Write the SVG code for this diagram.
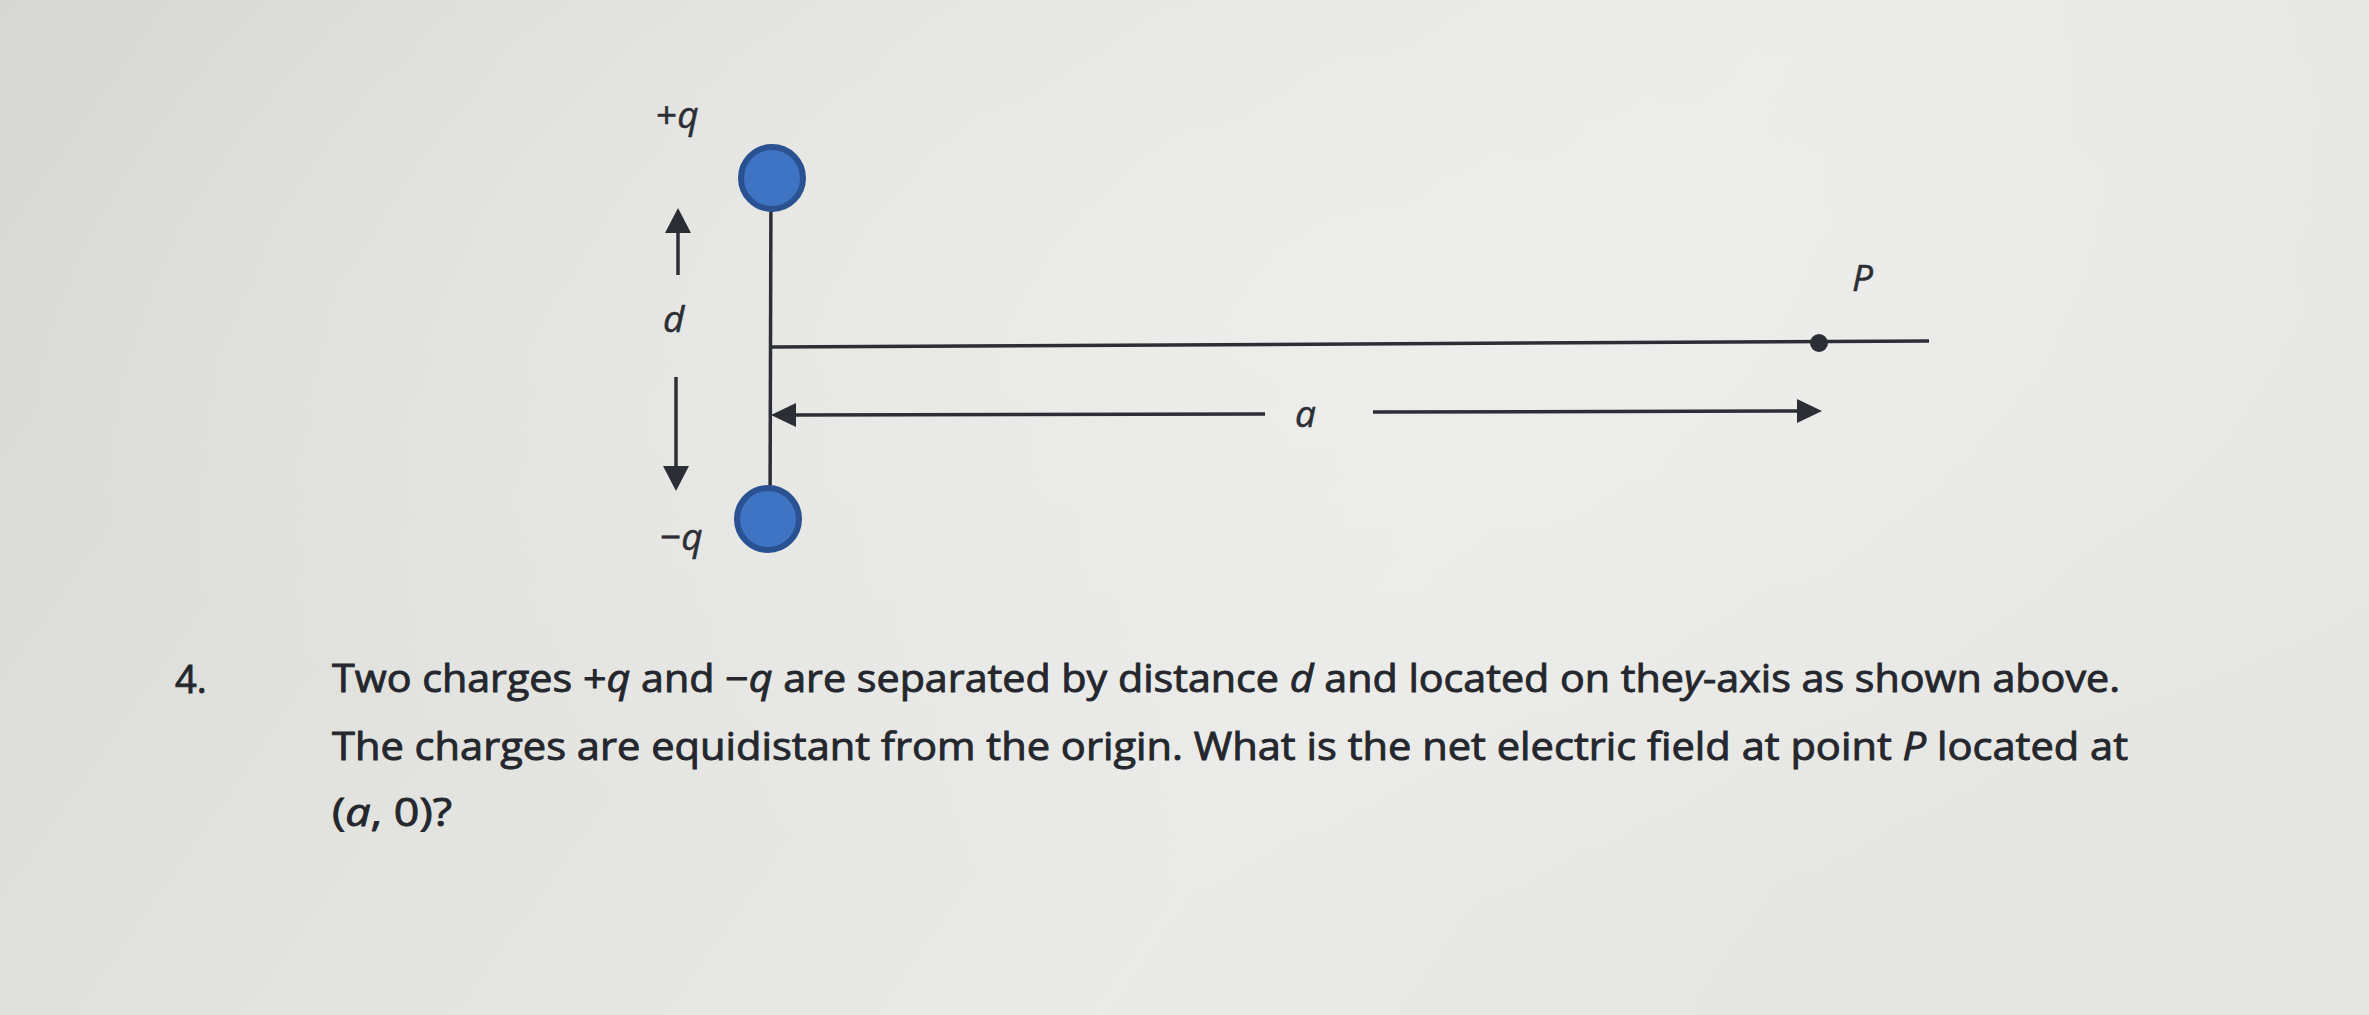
<svg xmlns="http://www.w3.org/2000/svg" width="2369" height="1015" viewBox="0 0 2369 1015">
<defs>
<linearGradient id="bg" x1="0" y1="0" x2="1" y2="0.3">
<stop offset="0" stop-color="#d7d8d4"/>
<stop offset="0.35" stop-color="#e2e2df"/>
<stop offset="0.7" stop-color="#eaeae8"/>
<stop offset="1" stop-color="#e5e5e2"/>
</linearGradient>
<radialGradient id="glow" cx="0.6" cy="0.3" r="0.6">
<stop offset="0" stop-color="#efefed" stop-opacity="0.7"/>
<stop offset="1" stop-color="#efefed" stop-opacity="0"/>
</radialGradient>
<style>
.ln{stroke:#2b2e35;stroke-width:3.5;fill:none}
.hd{fill:#2b2e35}
.chg{fill:#3e74c3;stroke:#2a5292;stroke-width:6}
.lbl{font-family:"Open Sans","DejaVu Sans",sans-serif;font-size:37px;fill:#2b2e35;stroke:#2b2e35;stroke-width:0.5}
.body{font-family:"Open Sans","DejaVu Sans",sans-serif;font-size:38px;fill:#24272d;stroke:#24272d;stroke-width:0.9}
.it{font-style:italic}
</style>
</defs>
<rect width="2369" height="1015" fill="url(#bg)"/>
<rect width="2369" height="1015" fill="url(#glow)"/>

<g id="connectors">
<line class="ln" x1="771" y1="178" x2="770" y2="519"/>
<line class="ln" x1="771" y1="347" x2="1929" y2="341"/>
<line class="ln" x1="792" y1="415" x2="1265" y2="414"/>
<polygon class="hd" points="771,415 796,403 796,427"/>
<line class="ln" x1="1373" y1="412" x2="1800" y2="411"/>
<polygon class="hd" points="1822,411 1797,399 1797,423"/>
<line class="ln" x1="678" y1="275" x2="678" y2="230"/>
<polygon class="hd" points="678,208 665,233 691,233"/>
<line class="ln" x1="676" y1="377" x2="676" y2="468"/>
<polygon class="hd" points="676,491 663,466 689,466"/>
</g>

<g id="charge-plus">
<circle class="chg" cx="772" cy="178" r="31"/>
<text class="lbl" x="656" y="128"><tspan>+</tspan><tspan class="it">q</tspan></text>
</g>
<g id="charge-minus">
<circle class="chg" cx="768" cy="519" r="31"/>
<text class="lbl" x="660" y="550"><tspan>−</tspan><tspan class="it">q</tspan></text>
</g>
<g id="point-P">
<circle cx="1819" cy="343" r="9" fill="#2b2e35"/>
<text class="lbl it" x="1852" y="291">P</text>
</g>
<g id="label-d">
<text class="lbl it" x="663" y="332">d</text>
</g>
<g id="label-a">
<text class="lbl it" x="1295" y="427">a</text>
</g>

<g id="question">
<text class="body" x="175" y="693">4.</text>
<text class="body" x="332" y="692" textLength="1788" lengthAdjust="spacingAndGlyphs">Two charges +<tspan class="it">q</tspan> and −<tspan class="it">q</tspan> are separated by distance <tspan class="it">d</tspan> and located on the<tspan class="it">y</tspan>-axis as shown above.</text>
<text class="body" x="332" y="760" textLength="1796" lengthAdjust="spacingAndGlyphs">The charges are equidistant from the origin. What is the net electric field at point <tspan class="it">P</tspan> located at</text>
<text class="body" x="332" y="826" textLength="120" lengthAdjust="spacingAndGlyphs">(<tspan class="it">a</tspan>, 0)?</text>
</g>
</svg>
